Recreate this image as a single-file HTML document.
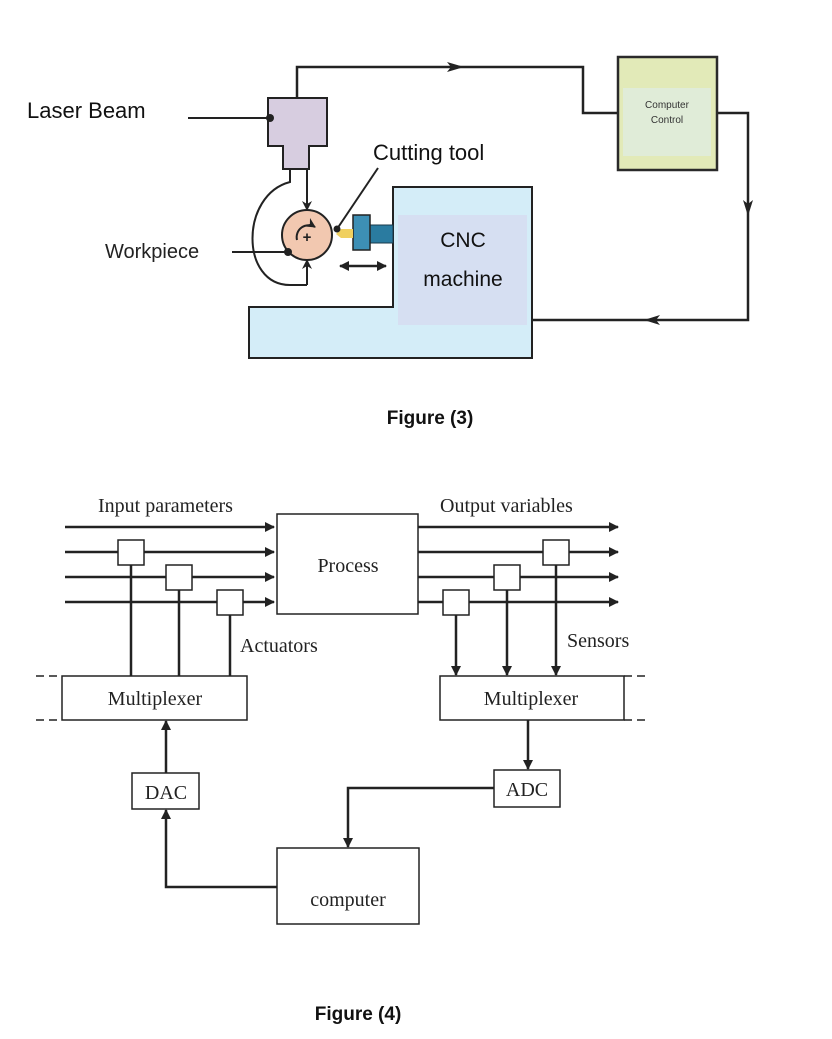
<!DOCTYPE html>
<html><head><meta charset="utf-8"><style>
html,body{margin:0;padding:0;background:#fff;}
svg{display:block;}
.s{font-family:"Liberation Sans",sans-serif;}
.r{font-family:"Liberation Serif",serif;}
</style></head><body>
<svg width="832" height="1039" viewBox="0 0 832 1039" xmlns="http://www.w3.org/2000/svg">
<defs>
<marker id="a" viewBox="0 0 10 10" refX="9" refY="5" markerWidth="10" markerHeight="10" orient="auto-start-reverse" markerUnits="userSpaceOnUse"><path d="M0,0 L10,5 L0,10 L3,5 z" fill="#222"/></marker>
<marker id="b" viewBox="0 0 10 10" refX="9" refY="5" markerWidth="14" markerHeight="10" orient="auto-start-reverse" markerUnits="userSpaceOnUse"><path d="M0,0 L10,5 L0,10 z" fill="#222"/></marker>
</defs>
<g stroke="#222" stroke-width="2.5" fill="none">
<polyline points="297,98 297,67 583,67 583,113 618,113"/>
<polyline points="717,113 748,113 748,320 532,320"/>
</g>
<path d="M447,62 L464,67 L447,72 L451,67z" fill="#222"/>
<path d="M743,200 L748,216 L753,200 L748,204z" fill="#222"/>
<path d="M660,315 L644,320 L660,325 L656,320z" fill="#222"/>
<rect x="618" y="57" width="99" height="113" fill="#e2eab8" stroke="#2a2a2a" stroke-width="2.5"/>
<rect x="623" y="88" width="88" height="68" fill="#e0ecd8"/>
<text x="667" y="108" class="s" font-size="10" fill="#333" text-anchor="middle">Computer</text>
<text x="667" y="123" class="s" font-size="10" fill="#333" text-anchor="middle">Control</text>
<text x="27" y="118" class="s" font-size="22" fill="#111">Laser Beam</text>
<line x1="188" y1="118" x2="270" y2="118" stroke="#222" stroke-width="2"/>
<path d="M268,98 H327 V146 H309 V169 H283 V146 H268 Z" fill="#d7cde0" stroke="#222" stroke-width="2"/>
<circle cx="270" cy="118" r="4" fill="#222"/>
<path d="M393,187 H532 V358 H249 V307 H393 Z" fill="#d4edf8" stroke="#222" stroke-width="2"/>
<rect x="398" y="215" width="129" height="110" fill="#d6dff2"/>
<text x="463" y="247" class="s" font-size="21" fill="#111" text-anchor="middle">CNC</text>
<text x="463" y="286" class="s" font-size="21" fill="#111" text-anchor="middle">machine</text>
<rect x="370" y="225" width="23" height="18" fill="#2a7ba0" stroke="#1a3a4a" stroke-width="1"/>
<rect x="353" y="215" width="17" height="35" fill="#3d8fb5" stroke="#222" stroke-width="1.5"/>
<path d="M341,229 H353 V238 H341 L336,234 Z" fill="#f0d060"/>
<path d="M290,169 V182 C240,195 240,285 290,285 H307" stroke="#222" stroke-width="2" fill="none"/>
<line x1="307" y1="285" x2="307" y2="260" stroke="#222" stroke-width="2" marker-end="url(#a)"/>
<line x1="307" y1="169" x2="307" y2="210" stroke="#222" stroke-width="2" marker-end="url(#a)"/>
<circle cx="307" cy="235" r="25" fill="#f2c8b0" stroke="#222" stroke-width="2"/>
<path d="M297,240 A12,12 0 0 1 315,227" stroke="#222" stroke-width="2" fill="none" marker-end="url(#a)"/>
<text x="307" y="242" class="s" font-size="15" font-weight="bold" fill="#222" text-anchor="middle">+</text>
<circle cx="288" cy="252" r="4" fill="#222"/>
<circle cx="337" cy="229" r="3.5" fill="#222"/>
<line x1="337" y1="229" x2="378" y2="168" stroke="#222" stroke-width="2"/>
<text x="373" y="160" class="s" font-size="22" fill="#111">Cutting tool</text>
<text x="105" y="258" class="s" font-size="20" fill="#222">Workpiece</text>
<line x1="232" y1="252" x2="288" y2="252" stroke="#222" stroke-width="2"/>
<line x1="340" y1="266" x2="386" y2="266" stroke="#222" stroke-width="2.5" marker-start="url(#b)" marker-end="url(#b)"/>
<text x="430" y="424" class="s" font-size="19" font-weight="bold" fill="#111" text-anchor="middle">Figure (3)</text>

<g stroke="#222" stroke-width="2.5" fill="none">
<line x1="65" y1="527" x2="274" y2="527" marker-end="url(#b)"/>
<line x1="65" y1="552" x2="274" y2="552" marker-end="url(#b)"/>
<line x1="65" y1="577" x2="274" y2="577" marker-end="url(#b)"/>
<line x1="65" y1="602" x2="274" y2="602" marker-end="url(#b)"/>
<line x1="418" y1="527" x2="618" y2="527" marker-end="url(#b)"/>
<line x1="418" y1="552" x2="618" y2="552" marker-end="url(#b)"/>
<line x1="418" y1="577" x2="618" y2="577" marker-end="url(#b)"/>
<line x1="418" y1="602" x2="618" y2="602" marker-end="url(#b)"/>
<line x1="131" y1="565" x2="131" y2="676"/>
<line x1="179" y1="590" x2="179" y2="676"/>
<line x1="230" y1="615" x2="230" y2="676"/>
<line x1="456" y1="615" x2="456" y2="675" marker-end="url(#b)"/>
<line x1="507" y1="590" x2="507" y2="675" marker-end="url(#b)"/>
<line x1="556" y1="565" x2="556" y2="675" marker-end="url(#b)"/>
<line x1="166" y1="773" x2="166" y2="721" marker-end="url(#b)"/>
<polyline points="277,887 166,887 166,810" marker-end="url(#b)"/>
<line x1="528" y1="720" x2="528" y2="769" marker-end="url(#b)"/>
<polyline points="494,788 348,788 348,847" marker-end="url(#b)"/>
</g>
<g stroke="#222" stroke-width="1.5" fill="#fff">
<rect x="277" y="514" width="141" height="100"/>
<rect x="118" y="540" width="26" height="25"/>
<rect x="166" y="565" width="26" height="25"/>
<rect x="217" y="590" width="26" height="25"/>
<rect x="543" y="540" width="26" height="25"/>
<rect x="494" y="565" width="26" height="25"/>
<rect x="443" y="590" width="26" height="25"/>
<rect x="62" y="676" width="185" height="44"/>
<rect x="440" y="676" width="184" height="44"/>
<rect x="132" y="773" width="67" height="36"/>
<rect x="494" y="770" width="66" height="37"/>
<rect x="277" y="848" width="142" height="76"/>
</g>
<g stroke="#222" stroke-width="1.5" stroke-dasharray="8,5">
<line x1="36" y1="676" x2="62" y2="676"/><line x1="36" y1="720" x2="62" y2="720"/>
<line x1="624" y1="676" x2="650" y2="676"/><line x1="624" y1="720" x2="650" y2="720"/>
</g>
<g class="r" fill="#222" font-size="20">
<text x="98" y="512">Input parameters</text>
<text x="440" y="512">Output variables</text>
<text x="348" y="572" text-anchor="middle">Process</text>
<text x="240" y="652">Actuators</text>
<text x="567" y="647">Sensors</text>
<text x="155" y="705" text-anchor="middle">Multiplexer</text>
<text x="531" y="705" text-anchor="middle">Multiplexer</text>
<text x="166" y="799" text-anchor="middle">DAC</text>
<text x="527" y="796" text-anchor="middle">ADC</text>
<text x="348" y="906" text-anchor="middle">computer</text>
</g>
<text x="358" y="1020" class="s" font-size="19" font-weight="bold" fill="#111" text-anchor="middle">Figure (4)</text>
</svg>
</body></html>
